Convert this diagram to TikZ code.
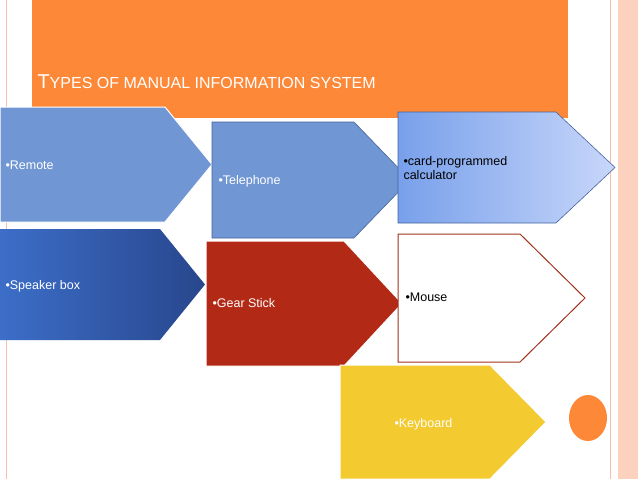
\documentclass[tikz,border=0pt]{standalone}
\usepackage{fontspec}
\setmainfont{Liberation Sans}
\begin{document}
\begin{tikzpicture}[x=1pt,y=-1pt,
  lbl/.style={anchor=west,font=\fontsize{12.5}{14}\selectfont},
  shad/.style={draw=white,line width=1pt}]
\useasboundingbox (0,0) rectangle (638,479);
\fill[white] (0,0) rectangle (638,479);
% borders
\draw[color={rgb,255:red,245;green,190;blue,170},line width=1pt] (6,0) -- (6,479);
\draw[color={rgb,255:red,245;green,190;blue,170},line width=1pt] (610,0) -- (610,479);
\fill[color={rgb,255:red,252;green,210;blue,190}] (618,0) rectangle (638,479);
% title banner
\fill[color={rgb,255:red,253;green,136;blue,56}] (32,0) rectangle (568,118);
\node[anchor=west,text=white,font=\fontsize{20}{22}\selectfont] (title) at (34,82) {T\fontsize{16}{18}\selectfont YPES OF MANUAL INFORMATION SYSTEM};
% hidden red shape
\fill[color={rgb,255:red,230;green,120;blue,90}] (496,133) rectangle (548,150);
% arrows
\def\pent#1#2#3#4#5{(#1,#2) -- (#3,#2) -- (#4,{(#2+#5)/2}) -- (#3,#5) -- (#1,#5) -- cycle}
\filldraw[fill={rgb,255:red,112;green,150;blue,212},shad] \pent{0}{107}{165}{212}{222};
\node[lbl,text=white] (remote) at (2,165) {•Remote};
\filldraw[fill={rgb,255:red,112;green,150;blue,212},draw={rgb,255:red,70;green,100;blue,160},line width=0.6pt] \pent{212}{122}{354}{410}{238};
\node[lbl,text=white] (tel) at (215,181) {•Telephone};
\shade[left color={rgb,255:red,120;green,160;blue,235},right color={rgb,255:red,200;green,215;blue,250}] \pent{398}{112}{556}{615}{223};
\draw[color={rgb,255:red,70;green,100;blue,160},line width=0.6pt] \pent{398}{112}{556}{615}{223};
\node[lbl,text=black,align=left] (calc) at (400,168) {•card-programmed\\ calculator};
\shade[left color={rgb,255:red,60;green,110;blue,200},right color={rgb,255:red,40;green,70;blue,140}] \pent{0}{229}{160}{205}{340};
\node[lbl,text=white] (spk) at (2,286) {•Speaker box};
\filldraw[fill={rgb,255:red,178;green,42;blue,22},shad] \pent{206}{241}{344}{402}{366};
\node[lbl,text=white] (gear) at (209,303) {•Gear Stick};
\filldraw[fill=white,draw={rgb,255:red,160;green,50;blue,30},line width=1pt] \pent{398}{234}{520}{585}{362};
\node[lbl,text=black] (mouse) at (402,297) {•Mouse};
\filldraw[fill={rgb,255:red,243;green,202;blue,48},shad] \pent{340}{365}{490}{546}{479};
\node[lbl,text=white] (kb) at (391,424) {•Keyboard};
\fill[color={rgb,255:red,253;green,136;blue,56}] (588,418) circle[x radius=19,y radius=23];
\end{tikzpicture}
\end{document}
